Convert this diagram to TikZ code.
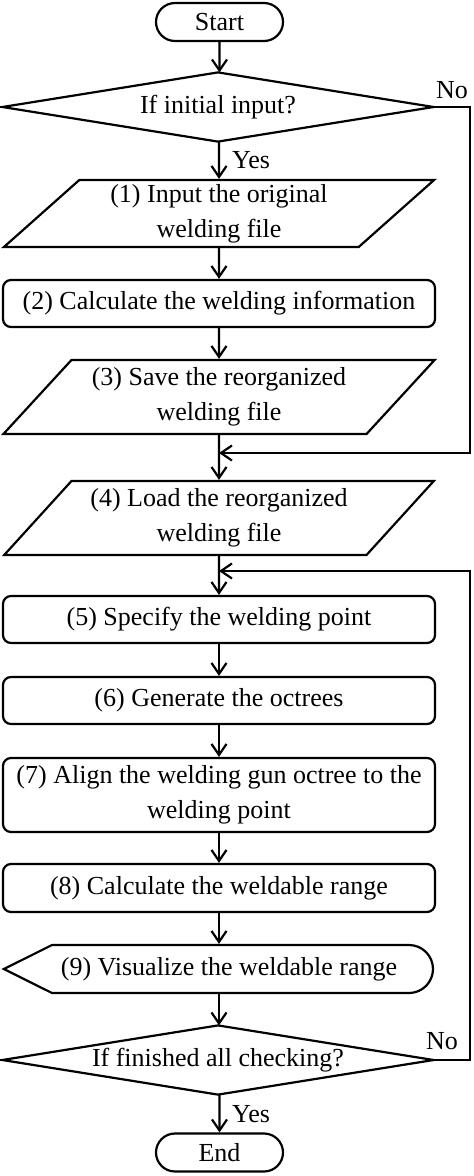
\documentclass[tikz,border=0pt]{standalone}
\usepackage{fontspec}
\setmainfont{Liberation Serif}
\usetikzlibrary{shapes.geometric,shapes.misc,arrows.meta}
\tikzset{
  base/.style={draw=black, line width=2.2pt, inner sep=0pt, align=center,
    font=\fontsize{26}{35}\selectfont},
  term/.style={base, rounded rectangle, minimum width=127pt, minimum height=38pt},
  dec/.style={base, draw=none, rectangle, minimum width=429pt, minimum height=67pt},
  io/.style={base, trapezium, trapezium left angle=45, trapezium right angle=135,
    trapezium stretches=true, minimum width=432pt},
  proc/.style={base, rectangle, rounded corners=8pt, minimum width=432pt},
  lbl/.style={font=\fontsize{26}{30}\selectfont, inner sep=0pt},
  arr/.style={line width=2.2pt, -{Straight Barb[length=11pt,width=15pt,line width=2.2pt]}},
  ln/.style={line width=2.2pt, line join=miter}
}
\begin{document}
\begin{tikzpicture}[x=1pt,y=-1pt]
\useasboundingbox[fill=white] (0,0) rectangle (474,1176);
\node[term] (start) at (219.5,22) {Start};
\node[dec] (d1) at (218,107) {If initial input?};
\draw[ln] (d1.north) -- (d1.east) -- (d1.south) -- (d1.west) -- cycle;
\node[io, minimum height=67pt] (p1) at (219,213.5) {(1) Input the original\\welding file};
\node[proc, minimum height=47pt] (b2) at (219,303.5) {(2) Calculate the welding information};
\node[io, minimum height=74pt] (p3) at (219,397) {(3) Save the reorganized\\welding file};
\node[io, minimum height=74pt] (p4) at (219,518) {(4) Load the reorganized\\welding file};
\node[proc, minimum height=47pt] (b5) at (219,619.5) {(5) Specify the welding point};
\node[proc, minimum height=47pt] (b6) at (219,700.5) {(6) Generate the octrees};
\node[proc, minimum height=74pt] (b7) at (219,795) {(7) Align the welding gun octree to the\\welding point};
\node[proc, minimum height=48pt] (b8) at (219,888) {(8) Calculate the weldable range};
\node[base, draw=none, minimum width=428pt, minimum height=48pt] (b9) at (219,969) {\hspace*{20pt}(9) Visualize the weldable range};
\draw[ln] (b9.west) -- (52,945) -- (409,945) arc[start angle=90, end angle=-90, radius=24pt] -- (52,993) -- cycle;
\node[dec] (d2) at (218,1060) {If finished all checking?};
\draw[ln] (d2.north) -- (d2.east) -- (d2.south) -- (d2.west) -- cycle;
\node[term] (end) at (219.5,1152.5) {End};

\coordinate (m1) at (219,453);
\coordinate (m2) at (219,571);
\coordinate (r1) at (470,107);
\coordinate (r2) at (470,1060);

\draw[arr] (start) -- (d1.north -| start.south);
\draw[arr] (d1.south -| p1.north) -- (p1);
\draw[arr] (p1) -- (b2);
\draw[arr] (b2) -- (p3);
\draw[arr] (p3) -- (p4);
\draw[arr] (p4) -- (b5);
\draw[arr] (b5) -- (b6);
\draw[arr] (b6) -- (b7);
\draw[arr] (b7) -- (b8);
\draw[arr] (b8) -- (b9.north -| b8.south);
\draw[arr] (b9.south -| b8.south) -- (d2.north -| b8.south);
\draw[arr] (d2.south -| end.north) -- (end);
\draw[arr] (d1.east) -- (r1) -- (r1 |- m1) -- (m1);
\draw[arr] (d2.east) -- (r2) -- (r2 |- m2) -- (m2);

\node[lbl, anchor=west] (y1) at (232,160) {Yes};
\node[lbl, anchor=west] (y2) at (232,1114) {Yes};
\node[lbl] (n1) at (452,90) {No};
\node[lbl] (n2) at (442,1041) {No};
\end{tikzpicture}
\end{document}
